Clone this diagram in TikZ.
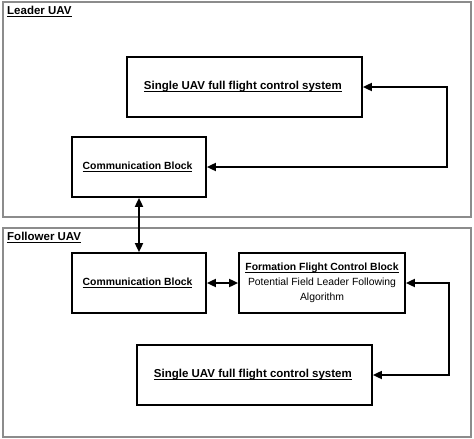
\documentclass[tikz,border=0pt]{standalone}
\usepackage{fontspec}
\setmainfont{Liberation Sans}
\usetikzlibrary{arrows.meta}
\newcommand{\undl}[1]{\leavevmode\setbox0=\hbox{#1}\rlap{\copy0}\rule[-2pt]{\wd0}{0.8pt}}
\tikzset{
  block/.style={rectangle, draw, line width=1.7pt, align=center, minimum height=60pt},
  frame/.style={draw=gray!90, line width=1.5pt},
  link/.style={{Triangle[length=9pt,width=8pt]}-{Triangle[length=9pt,width=8pt]}, line width=1.7pt},
  title/.style={anchor=north west, inner sep=0pt},
  big/.style={font=\fontsize{11.5}{14}\selectfont},
}

\begin{document}
\begin{tikzpicture}[x=1pt, y=-1pt, font=\fontsize{10.4}{12.5}\selectfont]
      \useasboundingbox (0,0) rectangle (474,439);
      % two UAV frames
      \draw[frame] (3,2) rectangle (471,217);
      \draw[frame] (3,228) rectangle (471,437);
      \node (leader) [title, big] at (7,6) {\textbf{\undl{Leader UAV}}};
      \node (follower) [title, big] at (7,232) {\textbf{\undl{Follower UAV}}};

      % leader blocks
      \node (lsys) [block, big, minimum width=235pt] at (244.5, 87) {
        \textbf{\undl{Single UAV full flight control system}}
      };
      \node (lcomm) [block, minimum width=134pt] at (139, 167) {
        \textbf{\undl{Communication Block}}
      };

      % follower blocks
      \node (fcomm) [block, minimum width=134pt] at (139, 283) {
        \textbf{\undl{Communication Block}}
      };
      \node (ffc) [block, minimum width=166pt, font=\fontsize{10.4}{15}\selectfont] at (322, 283) {
        \textbf{\undl{Formation Flight Control Block}} \\
        Potential Field Leader Following \\
        Algorithm
      };
      \node (fsys) [block, big, minimum width=235pt] at (254.5, 375) {
        \textbf{\undl{Single UAV full flight control system}}
      };

      \draw[link] (lsys.east) -- ++(84,0) |- (lcomm.east);
      \draw[link] (lcomm.south) -- (fcomm.north);
      \draw[link] (fcomm.east) -- (ffc.west);
      \draw[link] (ffc.east) -- ++(43,0) |- (fsys.east);
    \end{tikzpicture}
\end{document}
